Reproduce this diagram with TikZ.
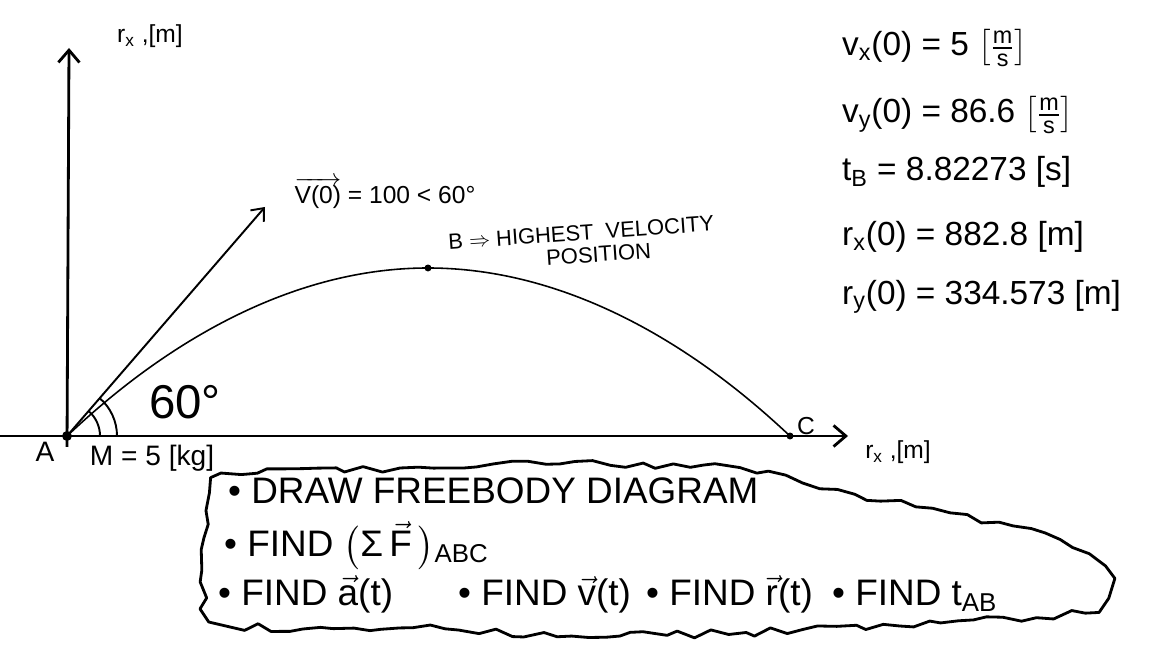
\documentclass[tikz,border=0pt]{standalone}
\usepackage{amsmath}
\usepackage{fontspec}
\setmainfont{Liberation Sans}
\usetikzlibrary{arrows.meta,decorations.pathmorphing}

\begin{document}
\begin{tikzpicture}[x=0.02cm, y=0.02cm,
  axis/.style={line width=1.6pt, -{Straight Barb[length=7pt,width=12pt]}},
  dot/.style={circle, fill, inner sep=1.4pt},
  given/.style={anchor=west, font=\fontsize{19}{22}\selectfont},
  task/.style={anchor=base west, font=\fontsize{21}{24}\selectfont},
  lbl/.style={font=\fontsize{14}{16}\selectfont}]
  \pgfmathsetseed{11}
  \useasboundingbox (0,0) rectangle (1152,648);
  \node[dot, inner sep=2pt] (A) at (67,212) {};
  \node[dot] (B) at (428,380) {};
  \node[dot] (C) at (790,212) {};
  \coordinate (xstart) at (0,212);
  \coordinate (xend) at (848,212);
  \coordinate (ystart) at (67,201);
  \coordinate (yend) at (69,600);
  \coordinate (vend) at (265,441);
  \draw[axis] (xstart) -- (xend);
  \draw[axis] (ystart) -- (yend);
  \draw[line width=1.1pt, -{Straight Barb[length=6pt,width=10pt]}] (A.center) -- (vend);
  \draw[line width=0.9pt] (A.center) parabola bend (B.center) (C.center);
  \draw[line width=1.1pt] (A.center) ++(33,0) arc[start angle=0, end angle=49, radius=33];
  \draw[line width=1.1pt] (A.center) ++(50,0) arc[start angle=0, end angle=49, radius=50];
  \node[lbl] (ylabel) at (150,612) {r\textsubscript{x} ,[m]};
  \node[lbl] (xlabel) at (898,196) {r\textsubscript{x} ,[m]};
  \node[lbl, font=\fontsize{16}{18}\selectfont] (Alabel) at (45,196) {A};
  \node[lbl, font=\fontsize{16}{18}\selectfont] (mass) at (152,190) {M = 5 [kg]};
  \node[lbl] (Clabel) at (806,222) {C};
  \node[font=\fontsize{27}{30}\selectfont] (angle) at (185,246) {60°};
  \node[font=\fontsize{14}{18}\selectfont] (vlabel) at (385,455) {$\overrightarrow{\text{V(0)}}$ = 100 < 60°};
  \node[lbl, font=\fontsize{12.5}{13}\selectfont, rotate=4, align=left] (Blabel) at (582,404)
    {B $\Rightarrow$ HIGHEST \ VELOCITY\\\hspace*{4.4em}POSITION};
  \node[given] (vx) at (836,600) {v\textsubscript{x}(0) = 5 $\left[\frac{\text{m}}{\text{s}}\right]$};
  \node[given] (vy) at (836,533) {v\textsubscript{y}(0) = 86.6 $\left[\frac{\text{m}}{\text{s}}\right]$};
  \node[given] (tB) at (836,476) {t\textsubscript{B} = 8.82273 [s]};
  \node[given] (rx) at (836,411) {r\textsubscript{x}(0) = 882.8 [m]};
  \node[given] (ry) at (836,351) {r\textsubscript{y}(0) = 334.573 [m]};
  \draw[line width=1.6pt, line join=round, decorate, decoration={random steps, segment length=9pt, amplitude=2.4pt}]
    plot[smooth cycle] coordinates {(222,172) (400,180) (560,184) (740,180) (820,160) (950,135) (1060,108)
      (1104,80) (1106,50) (1085,36) (900,22) (620,12) (400,20) (228,22) (206,50) (204,110) (210,155)};
  \node[task] (t1) at (222,144) {• DRAW FREEBODY DIAGRAM};
  \node[task] (t2) at (218,91) {• FIND $\bigl(\text{Σ}\,\vec{\text{F}}\,\bigr)$\textsubscript{ABC}};
  \node[task] (t3a) at (212,42) {• FIND $\vec{\text{a}}$(t)};
  \node[task] (t3b) at (452,42) {• FIND $\vec{\text{v}}$(t)};
  \node[task] (t3c) at (640,42) {• FIND $\vec{\text{r}}$(t)};
  \node[task] (t3d) at (826,42) {• FIND t\textsubscript{AB}};
\end{tikzpicture}
\end{document}
